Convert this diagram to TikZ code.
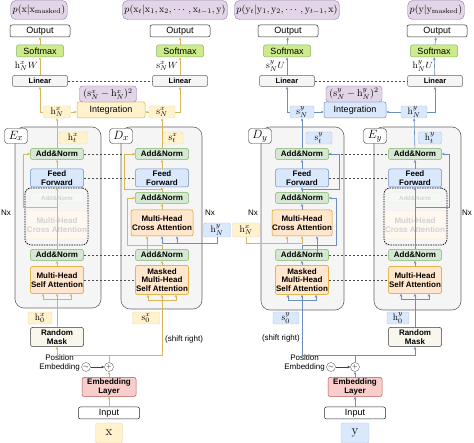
\documentclass[tikz,border=0pt]{standalone}
\usepackage{amsmath}
\usepackage{fontspec}
\setsansfont{Liberation Sans}
\usetikzlibrary{arrows.meta}
\usetikzlibrary{positioning}
\usetikzlibrary{calc}

\definecolor{ylwfl}{HTML}{FFF2CC}
\definecolor{ylwln}{HTML}{D6B656}
\definecolor{blufl}{HTML}{DAE8FC}
\definecolor{bluln}{HTML}{6C8EBF}
\definecolor{grnfl}{HTML}{D5E8D4}
\definecolor{grnln}{HTML}{82B366}
\definecolor{orgfl}{HTML}{FFE6CC}
\definecolor{orgln}{HTML}{D79B00}
\definecolor{purfl}{HTML}{E1D5E7}
\definecolor{purln}{HTML}{9673A6}
\definecolor{redfl}{HTML}{F8CECC}
\definecolor{redln}{HTML}{B85450}
\definecolor{smxfl}{HTML}{CDEB8B}
\definecolor{twrfl}{HTML}{F5F5F5}
\definecolor{twrln}{HTML}{666666}
\definecolor{mskfl}{HTML}{F9F7ED}
\definecolor{mskln}{HTML}{36393D}

\tikzset{
	mdl/.style={rounded corners=2pt, align=center, inner sep=0pt, line width=0.5pt, font=\sffamily\bfseries\fontsize{8}{8.7}\selectfont},
	addn/.style={mdl, draw=grnln, fill=grnfl, minimum width=53pt, minimum height=11pt},
	ffwd/.style={mdl, draw=bluln, fill=blufl, minimum width=53pt, minimum height=18pt},
	attn/.style={mdl, draw=orgln, fill=orgfl, minimum width=53pt, minimum height=27pt},
	fdaddn/.style={addn, draw=grnfl!50, fill=grnfl!25, text=black!18},
	fdattn/.style={attn, draw=orgfl!70, fill=orgfl!30, text=black!18},
	dbox/.style={draw, rounded corners=6pt, dash pattern=on 1.5pt off 1pt, line width=0.7pt},
	tower/.style={draw=twrln, fill=twrfl, rounded corners=9pt, line width=0.6pt},
	twlbl/.style={draw=black!80, fill=white, rounded corners=3pt, minimum width=23pt, minimum height=15pt, inner sep=0pt, font=\fontsize{13}{14}\selectfont},
	lin/.style={mdl, font=\sffamily\bfseries\fontsize{7.5}{8}\selectfont, draw=twrln, fill=twrfl, minimum width=55pt, minimum height=11pt},
	smx/.style={mdl, font=\sffamily\fontsize{9}{9}\selectfont, draw=grnln, fill=smxfl, minimum width=47pt, minimum height=12pt},
	outp/.style={mdl, font=\sffamily\fontsize{9}{9}\selectfont, draw=black!85, fill=white, minimum width=60pt, minimum height=12pt},
	pbox/.style={draw=purln, fill=purfl, rounded corners=5pt, minimum height=19pt, inner sep=2pt, font=\fontsize{10}{11}\selectfont},
	integ/.style={mdl, font=\sffamily\fontsize{9}{10}\selectfont, minimum height=16pt},
	vlbl/.style={rounded corners=1.5pt, inner sep=0pt, minimum height=12pt, line width=0.4pt, font=\fontsize{9.5}{10}\selectfont},
	ylbl/.style={vlbl, draw=ylwln!50, fill=ylwfl},
	blbl/.style={vlbl, draw=bluln!50, fill=blufl},
	rmask/.style={mdl, draw=mskln, fill=mskfl, minimum width=53pt, minimum height=19pt},
	emb/.style={mdl, draw=redln, fill=redfl, minimum width=54pt, minimum height=19pt},
	inp/.style={outp, minimum width=61pt},
	circ/.style={circle, draw=black!60, fill=white, minimum size=9pt, inner sep=0pt, font=\fontsize{6}{6}\selectfont},
	note/.style={font=\sffamily\fontsize{8}{9}\selectfont, align=center, inner sep=0pt},
	wlbl/.style={anchor=east, inner sep=0pt, font=\fontsize{9.5}{10}\selectfont},
	xln/.style={draw=ylwln, line width=0.6pt},
	yln/.style={draw=bluln, line width=0.6pt},
	dsh/.style={draw=black!70, dash pattern=on 2pt off 2pt, line width=0.5pt},
}

\begin{document}
\begin{tikzpicture}[x=1pt,y=-1pt,>={Stealth[length=3pt,width=2.6pt]}]
	\useasboundingbox (0,0) rectangle (474,443);
	% towers
	\node[tower, minimum width=86pt, minimum height=181pt] (twEx) at (58,217.5) {};
	\node[tower, minimum width=81pt, minimum height=182pt] (twDx) at (161.5,218) {};
	\node[tower, minimum width=83pt, minimum height=183pt] (twDy) at (302.5,218.5) {};
	\node[tower, minimum width=87pt, minimum height=183pt] (twEy) at (417.5,218.5) {};
	\node[twlbl] (lblEx) at (16,136) {$E_x$};
	\node[twlbl] (lblDx) at (121,136) {$D_x$};
	\node[twlbl] (lblDy) at (260,136) {$D_y$};
	\node[twlbl] (lblEy) at (375,136) {$E_y$};
	
	% heads
	\node[pbox] (pEx) at (39,10) {$p(\mathrm{x}|\mathrm{x}_{\mathrm{masked}})$};
	\node[pbox] (pDx) at (175,10) {$p(\mathrm{x}_t|\mathrm{x}_1,\mathrm{x}_2,\cdots,\mathrm{x}_{t-1},\mathrm{y})$};
	\node[pbox] (pDy) at (287,10) {$p(\mathrm{y}_t|\mathrm{y}_1,\mathrm{y}_2,\cdots,\mathrm{y}_{t-1},\mathrm{x})$};
	\node[pbox] (pEy) at (436,10) {$p(\mathrm{y}|\mathrm{y}_{\mathrm{masked}})$};
	\node[outp] (outEx) at (40,31) {Output};
	\node[outp] (outDx) at (180,31) {Output};
	\node[outp] (outDy) at (288,31) {Output};
	\node[outp] (outEy) at (437,31) {Output};
	\node[smx] (smEx) at (40,51) {Softmax};
	\node[smx] (smDx) at (180,51) {Softmax};
	\node[smx] (smDy) at (287,51) {Softmax};
	\node[smx] (smEy) at (434,51) {Softmax};
	\node[wlbl] (wEx) at (38,66) {$\mathrm{h}_N^x W$};
	\node[wlbl] (wDx) at (178,66) {$\mathrm{s}_N^x W$};
	\node[wlbl] (wDy) at (285,66) {$\mathrm{s}_N^y U$};
	\node[wlbl] (wEy) at (433,66) {$\mathrm{h}_N^y U$};
	\node[lin] (linEx) at (40,81) {Linear};
	\node[lin] (linDx) at (180,81) {Linear};
	\node[lin] (linDy) at (287,81) {Linear};
	\node[lin] (linEy) at (435,81) {Linear};
	
	% integration
	\node[integ, draw=ylwln, fill=ylwfl, minimum width=68pt] (intX) at (111,110) {Integration};
	\node[pbox, rounded corners=3pt, minimum width=57pt, minimum height=16pt] (sqX) at (108,94) {$(\mathrm{s}_N^x-\mathrm{h}_N^x)^2$};
	\node[integ, draw=bluln, fill=blufl, minimum width=62pt] (intY) at (355,110) {Integration};
	\node[pbox, rounded corners=3pt, minimum width=56pt, minimum height=16pt] (sqY) at (354,94) {$(\mathrm{s}_N^y-\mathrm{h}_N^y)^2$};
	\node[ylbl, minimum width=27pt] (hNx) at (57,112) {$\mathrm{h}_N^x$};
	\node[ylbl, minimum width=26pt] (sNx) at (162,112) {$\mathrm{s}_N^x$};
	\node[blbl, minimum width=24pt] (sNy) at (302,112) {$\mathrm{s}_N^y$};
	\node[blbl, minimum width=26pt] (hNy) at (414,112) {$\mathrm{h}_N^y$};
	
	% encoder x
	\node[ylbl, minimum width=28pt] (htx) at (73,138) {$\mathrm{h}_t^x$};
	\node[addn] (anEx1) at (57,154) {Add\&Norm};
	\node[ffwd] (ffEx) at (57,178) {Feed\\Forward};
	\node[dbox, minimum width=63pt, minimum height=57pt] (dbEx) at (56.5,216.5) {};
	\node[fdaddn, minimum height=10pt, font=\sffamily\bfseries\fontsize{6}{6}\selectfont] (faEx) at (57,198) {Add\&Norm};
	\node[fdattn, minimum width=59pt, minimum height=28pt] (fcEx) at (57,225) {Multi-Head\\Cross Attention};
	\node[addn] (anEx2) at (57,255) {Add\&Norm};
	\node[attn] (saEx) at (57,280) {Multi-Head\\Self Attention};
	
	% decoder x
	\node[ylbl, minimum width=20pt] (stx) at (173,138) {$\mathrm{s}_t^x$};
	\node[addn] (anDx1) at (162,154) {Add\&Norm};
	\node[ffwd] (ffDx) at (162,178) {Feed\\Forward};
	\node[addn] (anDx2) at (162,198) {Add\&Norm};
	\node[attn, minimum width=62pt, minimum height=26pt] (caDx) at (162,223) {Multi-Head\\Cross Attention};
	\node[addn] (anDx3) at (162,255) {Add\&Norm};
	\node[attn, minimum height=29pt] (saDx) at (162,280) {Masked\\Multi-Head\\Self Attention};
	
	% decoder y
	\node[blbl, minimum width=26pt] (sty) at (319,138) {$\mathrm{s}_t^y$};
	\node[addn] (anDy1) at (302,154) {Add\&Norm};
	\node[ffwd] (ffDy) at (302,178) {Feed\\Forward};
	\node[addn] (anDy2) at (302,198) {Add\&Norm};
	\node[attn, minimum width=60pt, minimum height=26pt] (caDy) at (302,223) {Multi-Head\\Cross Attention};
	\node[addn] (anDy3) at (302,255) {Add\&Norm};
	\node[attn, minimum height=29pt] (saDy) at (302,280) {Masked\\Multi-Head\\Self Attention};
	
	% encoder y
	\node[blbl, minimum width=23pt] (hty) at (430,138) {$\mathrm{h}_t^y$};
	\node[addn] (anEy1) at (415,154) {Add\&Norm};
	\node[ffwd] (ffEy) at (415,178) {Feed\\Forward};
	\node[dbox, minimum width=63pt, minimum height=57pt] (dbEy) at (415.5,216.5) {};
	\node[fdaddn, minimum height=10pt, font=\sffamily\bfseries\fontsize{6}{6}\selectfont] (faEy) at (415,198) {Add\&Norm};
	\node[fdattn, minimum width=59pt, minimum height=28pt] (fcEy) at (415,225) {Multi-Head\\Cross Attention};
	\node[addn] (anEy2) at (415,255) {Add\&Norm};
	\node[attn] (saEy) at (415,280) {Multi-Head\\Self Attention};
	
	% between the decoders
	\node[note] (nEx) at (6,213) {Nx};
	\node[note] (nDx) at (210,213) {Nx};
	\node[note] (nDy) at (253,213) {Nx};
	\node[note] (nEy) at (467,213) {Nx};
	\node[blbl, minimum width=27pt, minimum height=14pt] (hNyc) at (217,230) {$\mathrm{h}_N^y$};
	\node[ylbl, minimum width=27pt, minimum height=14pt] (hNxc) at (246,230) {$\mathrm{h}_N^x$};
	
	% inputs
	\node[ylbl, minimum width=24pt] (h0x) at (40,318) {$\mathrm{h}_0^x$};
	\node[ylbl, minimum width=27pt] (s0x) at (146,318) {$\mathrm{s}_0^x$};
	\node[blbl, minimum width=26pt] (s0y) at (286,318) {$\mathrm{s}_0^y$};
	\node[blbl, minimum width=22pt] (h0y) at (398,318) {$\mathrm{h}_0^y$};
	\node[rmask] (rmEx) at (57,337) {Random\\Mask};
	\node[rmask] (rmEy) at (415,337) {Random\\Mask};
	\node[note, anchor=west] (shX) at (165,339) {(shift right)};
	\node[note, anchor=east] (shY) at (300,338) {(shift right)};
	\node[circ] (posX) at (86,367) {$\sim$};
	\node[circ] (addX) at (109,367) {$+$};
	\node[note, anchor=east] (peX) at (80,363) {Position\\Embedding};
	\node[emb] (embX) at (109,387) {Embedding\\Layer};
	\node[inp] (inX) at (109,413) {Input};
	\node[ylbl, minimum width=27pt, minimum height=20pt, font=\fontsize{13}{13}\selectfont] (xX) at (109,433) {$\mathrm{x}$};
	\node[circ] (posY) at (331,367) {$\sim$};
	\node[circ] (addY) at (355,367) {$+$};
	\node[note, anchor=east] (peY) at (325,363) {Position\\Embedding};
	\node[emb] (embY) at (355,387) {Embedding\\Layer};
	\node[inp] (inY) at (355,413) {Input};
	\node[blbl, minimum width=28pt, minimum height=20pt, font=\fontsize{13}{13}\selectfont] (yY) at (355,433) {$\mathrm{y}$};
	
	% shared weights
	\draw[dsh] (linEx) -- (linDx);
	\draw[dsh] (linDy) -- (linEy);
	\draw[dsh] (anEx1) -- (anDx1);
	\draw[dsh] (ffEx) -- (ffDx);
	\draw[dsh] (anEx2) -- (anDx3);
	\draw[dsh] (saEx) -- (saDx);
	\draw[dsh] (anDy1) -- (anEy1);
	\draw[dsh] (ffDy) -- (ffEy);
	\draw[dsh] (anDy3) -- (anEy2);
	\draw[dsh] (saDy) -- (saEy);
	
	% x stream
	\draw[xln,->] (inX) -- (embX);
	\draw[xln,->] (embX) -- (addX);
	\draw[->, black!75] (posX) -- (addX);
	\draw[xln,->] (addX.north) -- ++(0,-7) -| (rmEx.south);
	\draw[xln] (addX.north) -- ++(0,-7) -| ([yshift=-6pt]saDx.south);
	\draw[xln] (rmEx) -- ([yshift=-6pt]saEx.south);
	\foreach \tw in {saEx,saDx} {
		\draw[xln] ([xshift=-14pt,yshift=-6pt]\tw.south) -- ([xshift=14pt,yshift=-6pt]\tw.south);
		\foreach \dx in {-14,0,14}
			\draw[xln,->] ([xshift=\dx pt,yshift=-6pt]\tw.south) -- ([xshift=\dx pt]\tw.south);
	}
	\draw[xln,->] (saEx) -- (anEx2);
	\draw[xln,->] (anEx2) -- (ffEx);
	\draw[xln,->] ([yshift=-4pt]faEx.south) -- ++(-34,0) |- (anEx1.west);
	\draw[xln,->] (ffEx) -- (anEx1);
	\draw[xln,->] (anEx1) -- (hNx);
	\draw[xln,->] (hNx) -- (hNx -| intX.west);
	\draw[xln,->] (hNx.west) -| (linEx.south);
	\draw[xln,->] (linEx) -- (smEx);
	\draw[xln,->] (smEx) -- (outEx);
	\draw[xln,->] (saDx) -- (anDx3);
	\draw[xln,->] (anDx3.north) -- ++(0,-4) -- ++(-35,0) |- (anDx2.west);
	\draw[xln,->] ([xshift=-15pt,yshift=-4pt]anDx3.north) -- ([xshift=-15pt]caDx.south);
	\draw[xln,->] (caDx) -- (anDx2);
	\draw[xln,->] (anDx2) -- (ffDx);
	\draw[xln,->] ([yshift=3pt]anDx2.north) -- ++(-38,0) |- (anDx1.west);
	\draw[xln,->] (ffDx) -- (anDx1);
	\draw[xln,->] (anDx1) -- (sNx);
	\draw[xln,->] (sNx) -- (sNx -| intX.east);
	\draw[xln,->] (sNx.east) -| (linDx.south);
	\draw[xln,->] (linDx) -- (smDx);
	\draw[xln,->] (smDx) -- (outDx);
	
	% y stream
	\draw[yln,->] (inY) -- (embY);
	\draw[yln,->] (embY) -- (addY);
	\draw[->, black!75] (posY) -- (addY);
	\draw[yln,->] (addY.north) -- ++(0,-7) -| (rmEy.south);
	\draw[yln] (addY.north) -- ++(0,-7) -| ([yshift=-6pt]saDy.south);
	\draw[yln] (rmEy) -- ([yshift=-6pt]saEy.south);
	\foreach \tw in {saDy,saEy} {
		\draw[yln] ([xshift=-14pt,yshift=-6pt]\tw.south) -- ([xshift=14pt,yshift=-6pt]\tw.south);
		\foreach \dx in {-14,0,14}
			\draw[yln,->] ([xshift=\dx pt,yshift=-6pt]\tw.south) -- ([xshift=\dx pt]\tw.south);
	}
	\draw[yln,->] (saEy) -- (anEy2);
	\draw[yln,->] (anEy2) -- (ffEy);
	\draw[yln,->] ([yshift=-4pt]faEy.south) -- ++(34,0) |- (anEy1.east);
	\draw[yln,->] (ffEy) -- (anEy1);
	\draw[yln,->] (anEy1) -- (hNy);
	\draw[yln,->] (hNy) -- (hNy -| intY.east);
	\draw[yln,->] (hNy.east) -| (linEy.south);
	\draw[yln,->] (linEy) -- (smEy);
	\draw[yln,->] (smEy) -- (outEy);
	\draw[yln,->] (saDy) -- (anDy3);
	\draw[yln,->] (anDy3.north) -- ++(0,-4) -- ++(34,0) |- (anDy2.east);
	\draw[yln,->] ([xshift=15pt,yshift=-4pt]anDy3.north) -- ([xshift=15pt]caDy.south);
	\draw[yln,->] (caDy) -- (anDy2);
	\draw[yln,->] (anDy2) -- (ffDy);
	\draw[yln,->] ([yshift=3pt]anDy2.north) -- ++(37,0) |- (anDy1.east);
	\draw[yln,->] (ffDy) -- (anDy1);
	\draw[yln,->] (anDy1) -- (sNy);
	\draw[yln,->] (sNy) -- (sNy -| intY.west);
	\draw[yln,->] (sNy.west) -| (linDy.south);
	\draw[yln,->] (linDy) -- (smDy);
	\draw[yln,->] (smDy) -- (outDy);
	
	% cross attention inputs
	\draw[yln,->] (hNyc.south) -- ++(0,6) -| (caDx.south);
	\draw[yln,->] ([xshift=15pt,yshift=-7pt]caDx.south) -- ([xshift=15pt]caDx.south);
	\draw[xln,->] (hNxc.south) -- ++(0,6) -| (caDy.south);
	\draw[xln,->] ([xshift=-15pt,yshift=-7pt]caDy.south) -- ([xshift=-15pt]caDy.south);
\end{tikzpicture}
\end{document}
